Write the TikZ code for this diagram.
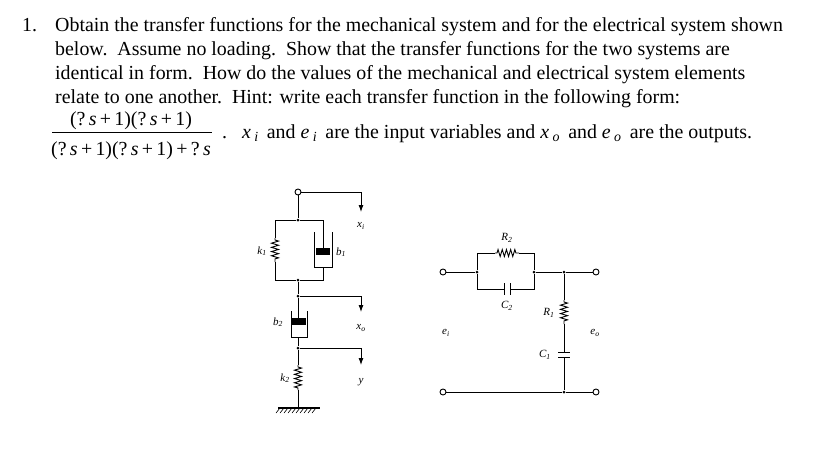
\documentclass[tikz,border=0pt]{standalone}
\usepackage{fontspec}
\setmainfont{Liberation Serif}
\usetikzlibrary{arrows.meta,decorations.pathmorphing,patterns}
\newcommand{\vsub}[2]{\textit{#1}\,\textsubscript{\textit{#2}}\,}
\newcommand{\lsub}[2]{\textit{#1}\textsubscript{\textit{#2}}}
\begin{document}
\begin{tikzpicture}[x=1pt,y=-1pt,
  txt/.style={anchor=base west,inner sep=0,font=\fontsize{19.9}{22}\selectfont},
  lbl/.style={inner sep=0,font=\fontsize{11}{12}\selectfont\itshape},
  wire/.style={line width=0.9pt},
  dn/.style={wire,-{Latex[length=7,width=5]}},
  term/.style={circle,draw,line width=0.9pt,fill=white,inner sep=0,minimum size=6},
  dot/.style={circle,fill,inner sep=0,minimum size=3},
  spr/.style={wire,decorate,decoration={zigzag,segment length=4.2,amplitude=3.5,pre length=2,post length=2}}]
\useasboundingbox (0,0) rectangle (820,467);
% text
\node[txt] (n1) at (22,31) {1.};
\node[txt] (l1) at (55,31) {Obtain the transfer functions for the mechanical system and for the electrical system shown};
\node[txt] (l2) at (55,55) {below.\ \ Assume no loading.\ \ Show that the transfer functions for the two systems are};
\node[txt] (l3) at (55,79) {identical in form.\ \ How do the values of the mechanical and electrical system elements};
\node[txt] (l4) at (55,103) {relate to one another.\ \ Hint: write each transfer function in the following form:};
\node[txt,anchor=base] (num) at (131,125) {(?\,\textit{s}\,+\,1)(?\,\textit{s}\,+\,1)};
\node[txt,anchor=base] (den) at (131,155) {(?\,\textit{s}\,+\,1)(?\,\textit{s}\,+\,1)\,+\,?\,\textit{s}};
\draw[line width=0.8pt] (52,132) -- (212,132);
\node[txt] (l5) at (222,138) {.\ \ \ \vsub{x}{i} and \vsub{e}{i} are the input variables and \vsub{x}{o} and \vsub{e}{o} are the outputs.};
% mechanical
\node[term] (top) at (298,192) {};
\coordinate (xi) at (361,212);
\draw[dn] (top) -- (361,192) -- (xi);
\node[lbl] (lxi) at (361,226) {\lsub{x}{i}};
\node[dot] (j1) at (298,220) {};
\node[dot] (j2) at (298,280) {};
\draw[wire] (top) -- (j1);
\draw[wire] (j1) -- (275,220) -- (275,238);
\draw[spr] (275,238) -- (275,262);
\draw[wire] (275,262) -- (275,280) -- (j2);
\draw[wire] (j1) -- (323,220) -- (323,251);
\draw[wire] (314,232) -- (314,267) -- (332,267) -- (332,232);
\draw[wire] (323,267) -- (323,280) -- (j2);
\fill (316,248) rectangle (330,255);
\node[lbl] (k1) at (262,251) {\lsub{k}{1}};
\node[lbl] (b1) at (341,252) {\lsub{b}{1}};
\node[dot] (j3) at (298,296) {};
\draw[wire] (j2) -- (j3);
\coordinate (xo) at (361,312);
\draw[dn] (j3) -- (361,296) -- (xo);
\node[lbl] (lxo) at (361,328) {\lsub{x}{o}};
\draw[wire] (j3) -- (298,320);
\draw[wire] (291,311) -- (291,337) -- (307,337) -- (307,311);
\fill (292,318) rectangle (306,325);
\node[lbl] (b2) at (278,322) {\lsub{b}{2}};
\node[dot] (j4) at (298,348) {};
\draw[wire] (298,337) -- (j4);
\coordinate (yy) at (361,365);
\draw[dn] (j4) -- (361,348) -- (yy);
\node[lbl] (ly) at (361,382) {y};
\draw[wire] (j4) -- (298,365);
\draw[spr] (298,365) -- (298,390);
\draw[wire] (298,390) -- (298,408);
\draw[line width=1.3pt] (278,408) -- (320,408);
\foreach \i in {0,...,9} \draw[line width=0.6pt] (280+4*\i,408) -- (276+4*\i,413);
\node[lbl] (k2) at (285,378) {\lsub{k}{2}};
% electrical
\node[term] (ein) at (443,272) {};
\node[term] (eout) at (596,272) {};
\node[term] (gin) at (443,392) {};
\node[term] (gout) at (596,392) {};
\node[dot] (a) at (477,272) {};
\node[dot] (b) at (534,272) {};
\node[dot] (c) at (564,272) {};
\node[dot] (d) at (564,392) {};
\draw[wire] (ein) -- (a);
\draw[wire] (a) -- (477,253) -- (495,253);
\draw[spr] (495,253) -- (519,253);
\draw[wire] (519,253) -- (534,253) -- (b);
\draw[wire] (a) -- (477,289) -- (504,289) (504,283) -- (504,295) (510,283) -- (510,295) (510,289) -- (534,289) -- (b);
\draw[wire] (b) -- (c) -- (eout);
\draw[wire] (c) -- (564,300);
\draw[spr] (564,300) -- (564,324);
\draw[wire] (564,324) -- (564,352) (558,352) -- (570,352) (558,357) -- (570,357) (564,357) -- (d);
\draw[wire] (gin) -- (d) -- (gout);
\node[lbl] (r2) at (507,238) {\lsub{R}{2}};
\node[lbl] (c2) at (507,306) {\lsub{C}{2}};
\node[lbl] (r1) at (549,313) {\lsub{R}{1}};
\node[lbl] (c1) at (545,355) {\lsub{C}{1}};
\node[lbl] (ei) at (446,333) {\lsub{e}{i}};
\node[lbl] (eo) at (595,333) {\lsub{e}{o}};
\end{tikzpicture}
\end{document}
